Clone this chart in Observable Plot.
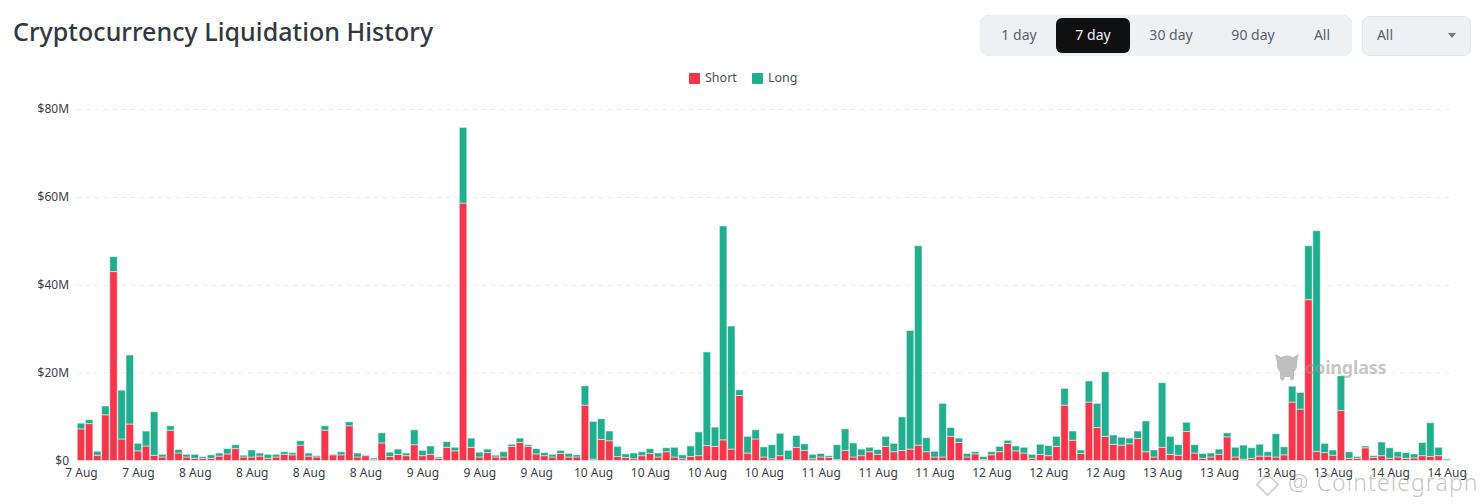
<!DOCTYPE html>
<html>
<head>
<meta charset="utf-8">
<script src="https://cdn.jsdelivr.net/npm/d3@7"></script>
<script src="https://cdn.jsdelivr.net/npm/@observablehq/plot@0.6"></script>
<style>
  html,body{margin:0;padding:0;background:#fff;}
  body{font-family:"Noto Sans",sans-serif;overflow:hidden;}
  #page{position:relative;width:1483px;height:504px;overflow:hidden;}
  #chart{position:absolute;left:0;top:0;}
  #chart svg{display:block;}
  .abs{position:absolute;white-space:nowrap;}
  #title{left:13px;top:13px;font-size:25px;line-height:36px;color:#32383e;font-weight:500;letter-spacing:.05px;}
  #seg{left:980px;top:15px;width:372px;height:41px;background:#eef1f4;border-radius:9px;box-shadow:0 0 1px #d5dade;}
  #act{left:1056px;top:18px;width:74px;height:35px;background:#101010;border-radius:6px;}
  .opt{top:24px;font-size:14px;line-height:21px;color:#5a6066;transform:translateX(-50%);}
  #sel{left:1362px;top:16px;width:109px;height:40px;background:#eef1f4;border-radius:7px;border:1px solid #e2e6e9;box-sizing:border-box;}
  #car{left:1448px;top:33px;width:0;height:0;border-left:4.5px solid transparent;border-right:4.5px solid transparent;border-top:5px solid #777;}
  .swatch{top:73px;width:11px;height:11px;border-radius:1px;}
  .leg{top:68px;font-size:12.5px;line-height:19px;color:#4a5056;}
  #cg{left:1305px;top:355px;font-size:18px;line-height:24px;font-weight:700;color:rgba(150,150,150,.55);letter-spacing:-.2px;}
  #ct{left:1288px;top:467px;font-size:23px;line-height:30px;font-weight:300;color:rgba(140,140,140,.5);letter-spacing:1.1px;}
  #dia{left:1259px;top:476px;width:13px;height:13px;border:2px solid rgba(170,170,170,.5);transform:rotate(45deg);}
</style>
</head>
<body>
<div id="page">
  <div id="chart"></div>
  <div class="abs" id="title">Cryptocurrency Liquidation History</div>
  <div class="abs" id="seg"></div>
  <div class="abs" id="act"></div>
  <div class="abs opt" style="left:1019px">1 day</div>
  <div class="abs opt" style="left:1093px;color:#f2f2f2">7 day</div>
  <div class="abs opt" style="left:1171px">30 day</div>
  <div class="abs opt" style="left:1253px">90 day</div>
  <div class="abs opt" style="left:1322px">All</div>
  <div class="abs" id="sel"></div>
  <div class="abs opt" style="left:1385px">All</div>
  <div class="abs" id="car"></div>
  <div class="abs swatch" style="left:689px;background:#f6364a"></div>
  <div class="abs leg" style="left:705px">Short</div>
  <div class="abs swatch" style="left:752px;background:#21ae8f"></div>
  <div class="abs leg" style="left:768px">Long</div>
  <svg class="abs" style="left:1272px;top:351px" width="30" height="32" viewBox="0 0 30 32"><path d="M3 3 L9 6 Q15 3 21 6 L27 3 L25 11 Q26 17 22 21 L22 28 L19 30 L18 26 L13 26 L11 30 L8 28 L8 21 Q4 17 5 11Z" fill="rgba(170,170,170,.75)"/></svg>
  <div class="abs" id="cg">coinglass</div>
  <div class="abs" id="dia"></div>
  <div class="abs" id="ct">@ Cointelegraph</div>
</div>
<script>
const shortM = [7.2,8.4,1.2,10.4,43,4.9,8.3,2.2,3.3,1.2,0.8,6.9,1.7,0.8,0.5,0.5,0.5,1.0,1.5,2.7,0.8,0.8,1.0,0.5,0.8,1.4,1.3,3.5,1.0,0.8,6.9,1.3,1.3,7.9,0.8,1.1,0.3,4.0,0.9,1.4,1.1,3.6,1.1,1.4,0.5,3.0,2.2,58.6,3.0,0.8,1.8,0.8,0.8,3.2,4.1,3.2,1.5,1.1,0.8,1.6,0.8,0.8,12.6,0.3,4.8,4.5,0.9,0.7,0.4,1.1,1.6,0.8,2.0,0.8,0.4,0.9,1.1,3.4,3.2,4.7,2.6,14.8,1.7,4.9,0.8,0.4,1.1,0.2,3.0,2.3,0.4,0.8,0.7,0.2,2.3,0.8,1.1,2.0,1.4,3.2,2.0,2.3,2.6,3.5,2.0,0.8,0.8,5.5,4.1,0.8,1.5,0.2,1.3,2.0,3.9,2.2,1.7,0.5,1.4,1.1,3.2,12.6,4.6,1.6,13.3,7.5,5.5,3.7,3.5,3.8,5.0,2.0,0.8,3.0,1.4,1.2,6.6,1.7,0.5,0.8,1.4,5.4,0.8,0.3,0.5,1.0,1.0,0.8,1.3,13.3,11.7,36.6,2.1,1.8,1.2,11.4,0.5,0.5,2.9,0.7,1.1,0.5,0.8,0.5,0.6,1.1,0.9,1.1,0.15];
const totalM = [8.5,9.3,2.1,12.4,46.4,16,24,3.9,6.7,11.1,1.4,7.9,2.5,1.4,1.4,0.9,1.3,1.7,2.7,3.6,1.2,2.4,1.7,1.4,1.4,2.0,1.8,4.5,1.7,1.1,7.9,1.4,2.0,8.8,1.7,1.3,0.6,6.3,1.9,2.6,1.7,7.0,2.3,3.3,0.8,4.3,3.0,75.8,5.1,1.9,2.6,1.2,2.0,3.7,5.1,3.6,2.7,1.8,1.4,2.3,1.6,1.3,17.0,8.9,9.5,6.7,3.2,1.5,1.7,2.0,2.7,1.7,2.9,3.0,1.3,3.3,6.5,24.7,7.6,53.4,30.6,16.1,5.5,7.0,3.1,3.6,6.2,2.3,5.7,3.8,1.4,1.6,1.1,3.6,7.2,4.0,2.6,3.0,2.5,5.5,3.9,9.9,29.6,48.9,5.2,2.1,13.0,7.5,5.1,1.6,2.0,0.9,2.0,3.2,4.6,3.3,3.0,1.4,3.7,3.4,5.5,16.4,6.7,2.4,18.1,13,20.2,5.8,5.3,5.1,6.7,9.0,2.4,17.7,5.5,3.6,8.7,3.6,1.6,1.7,2.6,6.3,3.0,3.5,2.9,3.7,2.0,6.1,3.1,16.9,15.5,48.9,52.3,3.9,2.4,19.3,2.0,0.9,3.3,1.1,4.2,2.9,2.0,1.8,1.5,4.1,8.6,3.0,0.4];
const tickLabels = ["7 Aug","7 Aug","8 Aug","8 Aug","8 Aug","8 Aug","9 Aug","9 Aug","9 Aug","10 Aug","10 Aug","10 Aug","10 Aug","11 Aug","11 Aug","11 Aug","12 Aug","12 Aug","12 Aug","13 Aug","13 Aug","13 Aug","13 Aug","14 Aug","14 Aug"];
const tickStep = 7;
const yTicks = [0,20,40,60,80];
const seriesNames = ["Short","Long"];
const seriesColors = ["#f6364a","#21ae8f"];

const hours = d3.range(shortM.length);
const rows = hours.flatMap(i => [
  {i, series:"Short", v:shortM[i]},
  {i, series:"Long", v:Math.max(0,totalM[i]-shortM[i])}
]);

const chart = Plot.plot({
  width:1483, height:504,
  marginTop:109, marginBottom:43.5, marginLeft:76.6, marginRight:32,
  style:{fontFamily:'"Noto Sans",sans-serif',color:"#3a4046",background:"transparent"},
  x:{type:"band",domain:hours,padding:0.08,round:false,label:null},
  y:{domain:[0,80],label:null},
  color:{domain:seriesNames,range:seriesColors},
  marks:[
    Plot.ruleY(yTicks.slice(1),{stroke:"#e9ebee",strokeWidth:1,strokeDasharray:"5,4",insetRight:2}),
    Plot.barY(rows,Plot.stackY({x:"i",y:"v",fill:"series",stroke:"#fff",strokeOpacity:0.5,strokeWidth:1,order:null})),
    Plot.axisY({ticks:yTicks,tickSize:0,tickPadding:8,fontSize:12,tickFormat:d=>d===0?"$0":`$${d}M`,label:null}),
    Plot.axisX({ticks:tickLabels.map((_,k)=>k*tickStep),tickSize:0,tickPadding:7,fontSize:12,tickFormat:d=>tickLabels[d/tickStep],label:null})
  ]
});
document.getElementById("chart").appendChild(chart);
</script>
</body>
</html>
